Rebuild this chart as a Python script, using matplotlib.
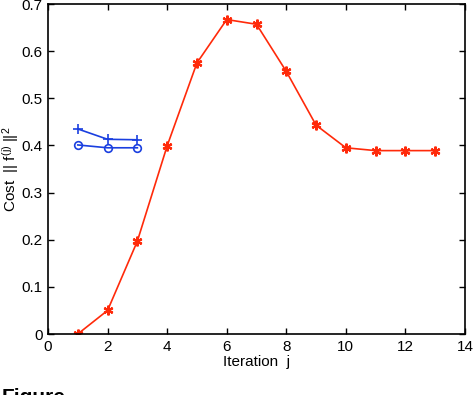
import matplotlib
matplotlib.use("Agg")
import matplotlib.pyplot as plt

plt.rcParams['font.family'] = ['Liberation Sans', 'DejaVu Sans']
plt.rcParams['mathtext.fontset'] = 'custom'
plt.rcParams['mathtext.rm'] = 'Liberation Sans'
plt.rcParams['mathtext.it'] = 'Liberation Sans'

iter_red = [1, 2, 3, 4, 5, 6, 7, 8, 9, 10, 11, 12, 13]
cost_red = [0.0, 0.05, 0.197, 0.399, 0.575, 0.667, 0.657, 0.557, 0.443, 0.395, 0.389, 0.389, 0.389]
iter_blue = [1, 2, 3]
cost_plus = [0.435, 0.413, 0.412]
cost_circ = [0.401, 0.395, 0.395]

xticks = [0, 2, 4, 6, 8, 10, 12, 14]
yticks = [0, 0.1, 0.2, 0.3, 0.4, 0.5, 0.6, 0.7]

fig = plt.figure(figsize=(4.74, 3.95), dpi=100)
ax = fig.add_axes([48/474, 1 - 334/395, (465-48)/474, (334-4)/395])

ax.plot(iter_red, cost_red, color='#ff2a0a', marker=(6, 2, 0), markersize=7, linewidth=1.2,
        markeredgewidth=1.6)
ax.plot(iter_blue, cost_plus, color='#1a3fe0', marker='+', markersize=7, linewidth=1.2,
        markeredgewidth=1.2)
ax.plot(iter_blue, cost_circ, color='#1a3fe0', marker='o', markersize=5.5, linewidth=1.2,
        markerfacecolor='none', markeredgewidth=1.2)

ax.set_xlim(0, 14)
ax.set_ylim(0, 0.7)
ax.set_xticks(xticks)
ax.set_yticks(yticks)
ax.set_xticklabels([str(t) for t in xticks])
ax.set_yticklabels(['0', '0.1', '0.2', '0.3', '0.4', '0.5', '0.6', '0.7'])
ax.tick_params(direction='in', top=True, right=True, labelsize=11, length=4, width=1, pad=4)
for s in ax.spines.values():
    s.set_linewidth(1.2)

ax.set_xlabel('Iteration  j', fontsize=11, labelpad=1)
ax.set_ylabel(r'Cost  $||\;f^{(j)}\;||^2$', fontsize=11, labelpad=0)

fig.text(0.003, -0.03, 'Figure', fontsize=15, fontweight='bold', va='bottom', ha='left')

fig.savefig('out.png', dpi=100)
